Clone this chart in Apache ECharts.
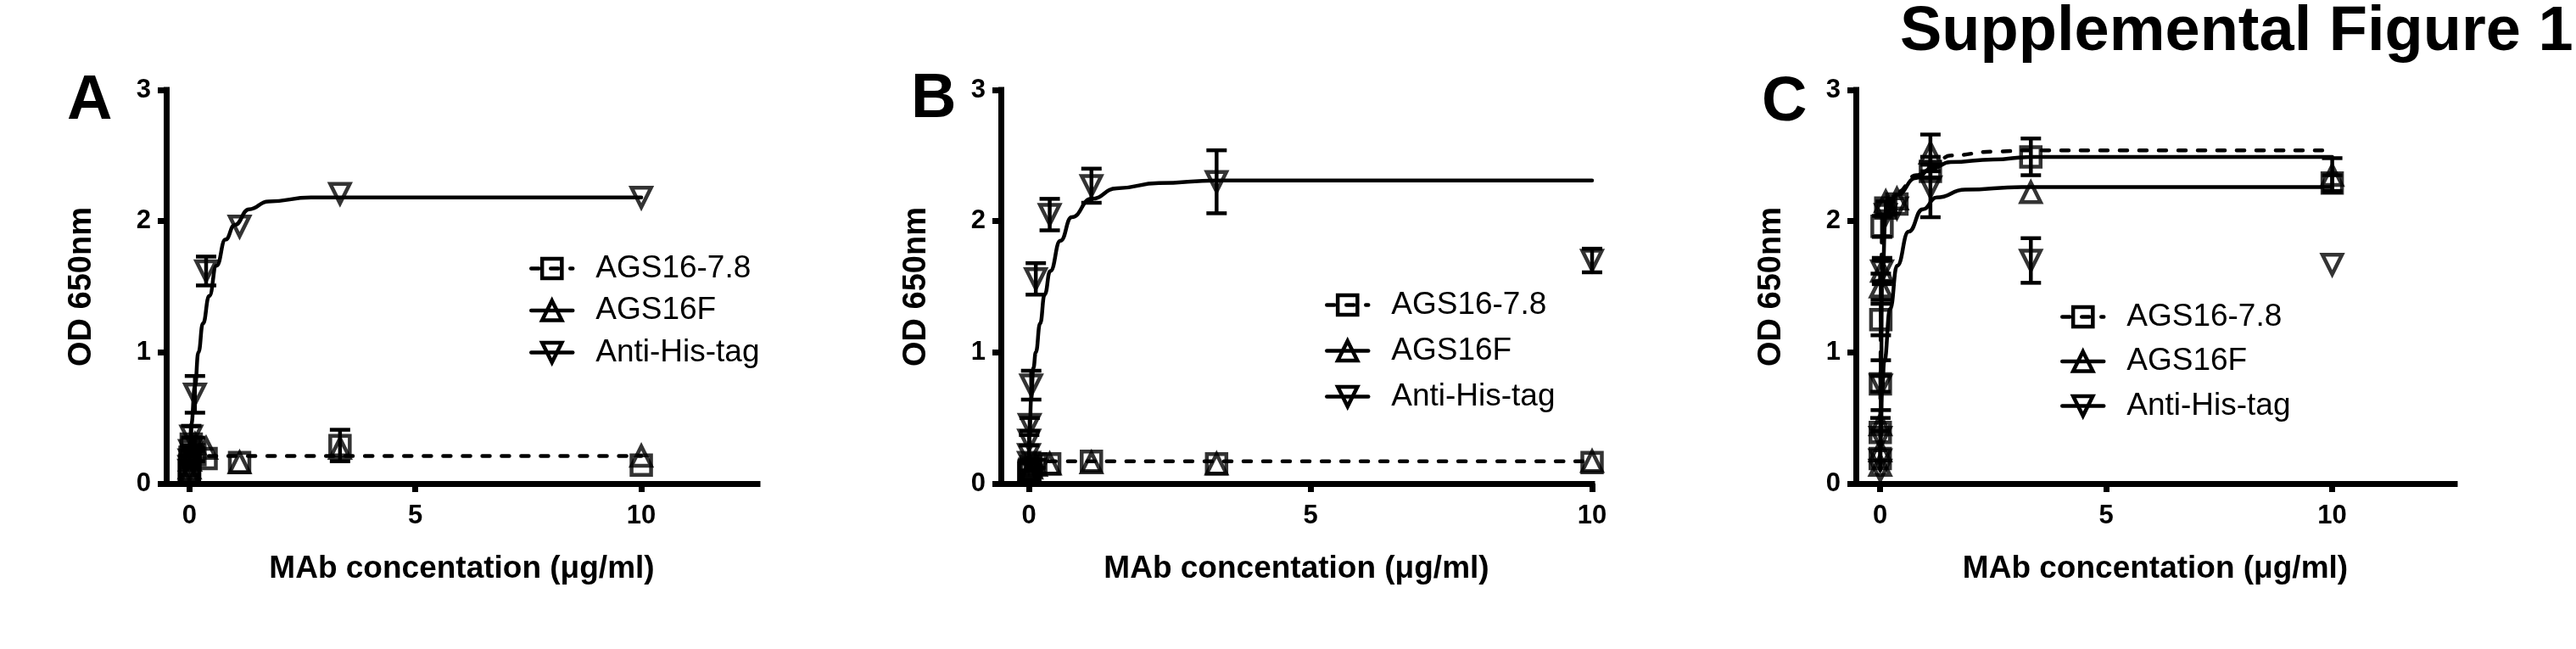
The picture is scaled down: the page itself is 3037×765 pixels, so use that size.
<!DOCTYPE html>
<html>
<head>
<meta charset="utf-8">
<script src="https://cdn.jsdelivr.net/npm/echarts@6/dist/echarts.min.js"></script>
<style>
  html, body { margin: 0; padding: 0; background: #fff; }
  #chart { width: 3037px; height: 765px; }
</style>
</head>
<body>
<div id="chart"></div>
<script>
// MAb concentration, 3-fold dilutions from 10 ug/ml
const conc = [10, 3.333, 1.111, 0.370, 0.123, 0.0412, 0.0137, 0.00457, 0.00152, 0.00051];
const names = ['AGS16-7.8', 'AGS16F', 'Anti-His-tag'];
const xTicks = [0, 5, 10];

// panel A
const aSq = [0.14, 0.29, 0.16, 0.19, 0.22, 0.30, 0.20, 0.14, 0.10, 0.08];
const aSqErr = [0, 0.12, 0, 0, 0.05, 0.05, 0, 0, 0, 0];
const aUp = [0.21, 0.27, 0.16, 0.27, 0.30, 0.25, 0.18, 0.12, 0.09, 0.07];
const aUpErr = [0, 0, 0, 0, 0.05, 0, 0, 0, 0, 0];
const aDn = [2.18, 2.21, 1.96, 1.62, 0.68, 0.36, 0.25, 0.18, 0.13, 0.10];
const aDnErr = [0, 0, 0, 0.11, 0.14, 0.08, 0.04, 0, 0, 0];
const aFitSq = [[0.00051, 0.21], [10, 0.21]];
const aFitDn = [[0.00051, 0.12], [0.00457, 0.18], [0.0137, 0.26], [0.0412, 0.45], [0.123, 0.74], [0.2, 1.0], [0.3, 1.22], [0.44, 1.43], [0.6, 1.66], [0.8, 1.86], [1.0, 1.97], [1.32, 2.09], [1.75, 2.15], [2.69, 2.18], [10, 2.18]];

// panel B
const bSq = [0.16, 0.15, 0.17, 0.15, 0.15, 0.13, 0.11, 0.10, 0.09, 0.08];
const bSqErr = [0, 0, 0, 0, 0.03, 0.03, 0, 0, 0, 0];
const bUp = [0.17, 0.15, 0.16, 0.15, 0.14, 0.12, 0.10, 0.09, 0.08, 0.07];
const bUpErr = [0, 0, 0, 0, 0, 0, 0, 0, 0, 0];
const bDn = [1.70, 2.30, 2.27, 2.05, 1.56, 0.75, 0.45, 0.33, 0.22, 0.16];
const bDnErr = [0.09, 0.24, 0.13, 0.12, 0.12, 0.11, 0.05, 0.04, 0, 0];
const bFitSq = [[0.00051, 0.17], [10, 0.17]];
const bFitDn = [[0.00051, 0.16], [0.00457, 0.27], [0.0137, 0.4], [0.0412, 0.65], [0.08, 0.88], [0.123, 1.0], [0.2, 1.22], [0.28, 1.44], [0.38, 1.62], [0.56, 1.85], [0.76, 2.03], [1.11, 2.17], [1.56, 2.25], [2.31, 2.29], [3.33, 2.31], [10, 2.31]];

// panel C
const cSq = [2.29, 2.49, 2.38, 2.13, 2.10, 1.96, 1.25, 0.76, 0.39, 0.19];
const cSqErr = [0.06, 0.14, 0.05, 0, 0.05, 0.08, 0.12, 0.06, 0, 0];
const cUp = [2.35, 2.22, 2.52, 2.17, 2.15, 1.62, 1.50, 0.45, 0.25, 0.14];
const cUpErr = [0.13, 0, 0.14, 0, 0, 0.08, 0.10, 0.05, 0, 0];
const cDn = [1.67, 1.70, 2.26, 2.10, 2.05, 1.62, 0.75, 0.35, 0.18, 0.10];
const cDnErr = [0, 0.17, 0.23, 0, 0, 0.10, 0.19, 0, 0, 0];
const cFitSq = [[0.00051, 0.2], [0.00152, 0.38], [0.00457, 0.75], [0.0137, 1.25], [0.0412, 1.9], [0.123, 2.1], [0.37, 2.22], [0.8, 2.35], [1.13, 2.41], [1.56, 2.5], [2.5, 2.53], [3.33, 2.54], [10, 2.54]];
const cFitUp = [[0.00051, 0.15], [0.00457, 0.3], [0.0137, 0.5], [0.0412, 1.5], [0.123, 2.05], [0.37, 2.2], [0.8, 2.33], [1.13, 2.4], [1.56, 2.45], [2.5, 2.47], [3.33, 2.49], [10, 2.49]];
const cFitDn = [[0.00051, 0.1], [0.00457, 0.2], [0.0137, 0.35], [0.0412, 0.7], [0.09, 0.93], [0.22, 1.33], [0.375, 1.66], [0.63, 1.92], [0.94, 2.09], [1.25, 2.18], [1.88, 2.24], [3.13, 2.26], [10, 2.26]];

const font = 'Liberation Sans';
const symbols = ['rect', 'triangle', 'path://M0,0L20,0L10,20Z'];
const hollow = { color: 'rgba(0,0,0,0)', borderColor: '#000', borderWidth: 4.5 };

const panels = [
    { letter: 'A', letterX: 79, letterY: 120, left: 196, width: 697, min: -0.512, max: 12.57,
      legendLeft: 624, legendTop: 298, legendGap: 12.5,
      pts: [aSq, aUp, aDn], errs: [aSqErr, aUpErr, aDnErr], fits: [aFitSq, null, aFitDn] },
    { letter: 'B', letterX: 1074, letterY: 118, left: 1180, width: 697, min: -0.497, max: 10,
      legendLeft: 1562, legendTop: 341, legendGap: 17,
      pts: [bSq, bUp, bDn], errs: [bSqErr, bUpErr, bDnErr], fits: [bFitSq, null, bFitDn] },
    { letter: 'C', letterX: 2077, letterY: 122, left: 2188, width: 706, min: -0.538, max: 12.71,
      legendLeft: 2429, legendTop: 355, legendGap: 15.5,
      pts: [cSq, cUp, cDn], errs: [cSqErr, cUpErr, cDnErr], fits: [cFitSq, cFitUp, cFitDn] }
];

function renderErr(params, api) {
    const x = api.value(0), y = api.value(1), e = api.value(2);
    const top = api.coord([x, y + e]);
    const bot = api.coord([x, y - e]);
    const w = 12;
    const st = { stroke: '#000', lineWidth: 4.5 };
    return {
        type: 'group',
        children: [
            { type: 'line', shape: { x1: top[0], y1: top[1], x2: bot[0], y2: bot[1] }, style: st },
            { type: 'line', shape: { x1: top[0] - w, y1: top[1], x2: top[0] + w, y2: top[1] }, style: st },
            { type: 'line', shape: { x1: bot[0] - w, y1: bot[1], x2: bot[0] + w, y2: bot[1] }, style: st }
        ]
    };
}

const grid = [], xAxis = [], yAxis = [], legend = [], graphic = [];
const lineSeries = [], pointSeries = [], errSeries = [];

for (let p = 0; p < panels.length; p++) {
    const P = panels[p];
    grid.push({ left: P.left, top: 106, width: P.width, height: 464 });
    xAxis.push({
        type: 'value', gridIndex: p, min: P.min, max: P.max,
        name: 'MAb concentation (\u03bcg/ml)', nameLocation: 'middle', nameGap: 82,
        nameTextStyle: { fontSize: 37, fontWeight: 'bold', fontFamily: font, color: '#000' },
        axisLine: { onZero: false, lineStyle: { color: '#000', width: 7, cap: 'square' } },
        axisTick: { customValues: xTicks, length: 10, lineStyle: { color: '#000', width: 7 } },
        axisLabel: { customValues: xTicks, margin: 23, fontSize: 31, fontWeight: 'bold', fontFamily: font, color: '#000' },
        splitLine: { show: false }
    });
    yAxis.push({
        type: 'value', gridIndex: p, min: 0, max: 3, interval: 1,
        name: 'OD 650nm', nameLocation: 'middle', nameGap: 80,
        nameTextStyle: { fontSize: 38, fontWeight: 'bold', fontFamily: font, color: '#000' },
        axisLine: { show: true, onZero: false, lineStyle: { color: '#000', width: 7, cap: 'square' } },
        axisTick: { show: true, length: 10, lineStyle: { color: '#000', width: 7 } },
        axisLabel: { margin: 18, fontSize: 31, fontWeight: 'bold', fontFamily: font, color: '#000' },
        splitLine: { show: false }
    });
    legend.push({
        orient: 'vertical', left: P.legendLeft, top: P.legendTop, padding: 0,
        itemWidth: 49, itemHeight: 29, itemGap: P.legendGap, selectedMode: false,
        data: names,
        textStyle: { fontSize: 37, lineHeight: 37, fontFamily: font, color: '#000', padding: [0, 0, 0, 22] },
        itemStyle: hollow,
        lineStyle: { width: 4.5, color: '#000' }
    });
    graphic.push({
        type: 'text', left: P.letterX, top: P.letterY - 37,
        style: { text: P.letter, font: 'bold 74px "' + font + '"', fill: '#000' }
    });

    for (let d = 0; d < names.length; d++) {
        if (P.fits[d]) {
            lineSeries.push({
                type: 'line', name: names[d], xAxisIndex: p, yAxisIndex: p,
                data: P.fits[d], smooth: 0.5, smoothMonotone: 'x',
                symbol: symbols[d], symbolSize: 23, showSymbol: false, silent: true,
                lineStyle: { color: '#000', width: 4.5, type: d === 0 ? [9, 14] : 'solid', cap: 'round' },
                itemStyle: hollow, z: 2
            });
        }
        const pts = [], errs = [];
        for (let i = 0; i < conc.length; i++) {
            pts.push([conc[i], P.pts[d][i]]);
            if (P.errs[d][i] > 0) errs.push([conc[i], P.pts[d][i], P.errs[d][i]]);
        }
        pointSeries.push({
            type: 'scatter', name: names[d], xAxisIndex: p, yAxisIndex: p,
            data: pts, symbol: symbols[d], symbolSize: 23, itemStyle: hollow, z: 4, silent: true
        });
        errSeries.push({
            type: 'custom', name: names[d], xAxisIndex: p, yAxisIndex: p,
            data: errs, renderItem: renderErr, encode: { x: 0, y: 1 }, z: 3, silent: true
        });
    }
}

graphic.push({
    type: 'text', left: 2240, top: 39 - 37,
    style: { text: 'Supplemental Figure 1', font: 'bold 74px "' + font + '"', fill: '#000' }
});

const chart = echarts.init(document.getElementById('chart'));
chart.setOption({
    animation: false,
    backgroundColor: '#fff',
    grid: grid,
    xAxis: xAxis,
    yAxis: yAxis,
    legend: legend,
    graphic: graphic,
    series: lineSeries.concat(errSeries, pointSeries)
});
</script>
</body>
</html>
